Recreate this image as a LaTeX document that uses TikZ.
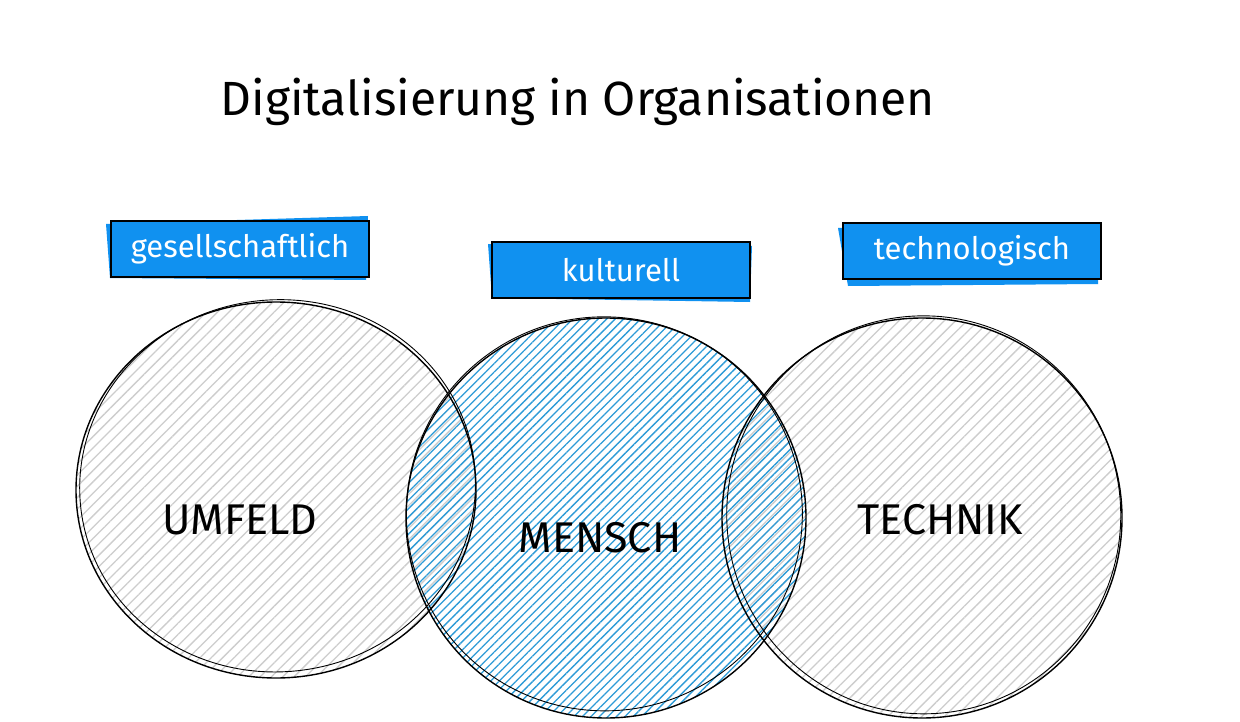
\documentclass[tikz,border=0pt]{standalone}
\usepackage{fontspec}
\setmainfont{Fira Sans}
\usetikzlibrary{patterns.meta}
\definecolor{exblue}{RGB}{16,145,240}
\definecolor{hatchblue}{RGB}{45,155,215}
\definecolor{hatchgray}{RGB}{205,205,205}
\tikzset{
  ring/.style={draw=black,line width=1.4pt},
  ringthin/.style={draw=black,line width=0.9pt},
  grayhatch/.style={pattern={Lines[angle=45,distance=8pt,line width=1.3pt]},pattern color=hatchgray},
  bluehatch/.style={pattern={Lines[angle=45,distance=6pt,line width=1.3pt]},pattern color=hatchblue},
  tag/.style={fill=exblue,draw=black,line width=1.7pt,minimum width=258pt,minimum height=56pt,inner sep=0pt,text=white,font=\fontsize{31}{34}\selectfont},
  big/.style={font=\fontsize{43}{47}\selectfont,text=black},
}
\begin{document}
\begin{tikzpicture}[x=1pt,y=-1pt]
\useasboundingbox (0,0) rectangle (1240,722);
\fill[white] (0,0) rectangle (1240,722);
% fills
\fill[grayhatch] (276,490) ellipse [x radius=200,y radius=188];
\fill[grayhatch] (922,518) ellipse [x radius=200,y radius=200];
\fill[bluehatch] (606,518) ellipse [x radius=200,y radius=200];
% outlines (sketchy double stroke)
\draw[ring] (276,490) ellipse [x radius=200,y radius=188];
\draw[ringthin,rotate around={6:(276,490)}] (278,486) ellipse [x radius=198,y radius=186];
\draw[ring] (606,518) ellipse [x radius=200,y radius=200];
\draw[ringthin,rotate around={-5:(606,518)}] (604,514) ellipse [x radius=198,y radius=197];
\draw[ring] (922,518) ellipse [x radius=200,y radius=200];
\draw[ringthin,rotate around={5:(922,518)}] (924,515) ellipse [x radius=197,y radius=199];
% labels inside circles
\node[big] (umfeld) at (240,520) {UMFELD};
\node[big] (mensch) at (600,538) {MENSCH};
\node[big] (technik) at (940,520) {TECHNIK};
% title
\node[font=\fontsize{48}{52}\selectfont] (title) at (578,102) {Digitalisierung in Organisationen};
% tags
\fill[exblue] (106,224) -- (368,216) -- (366,280) -- (110,278) -- cycle;
\node[tag] (ges) at (240,249) {gesellschaftlich};
\fill[exblue] (488,244) -- (752,246) -- (750,302) -- (492,298) -- cycle;
\node[tag] (kult) at (621,270) {kulturell};
\fill[exblue] (838,228) -- (1100,222) -- (1098,284) -- (848,286) -- cycle;
\node[tag] (tech) at (972,251) {technologisch};
\end{tikzpicture}
\end{document}
